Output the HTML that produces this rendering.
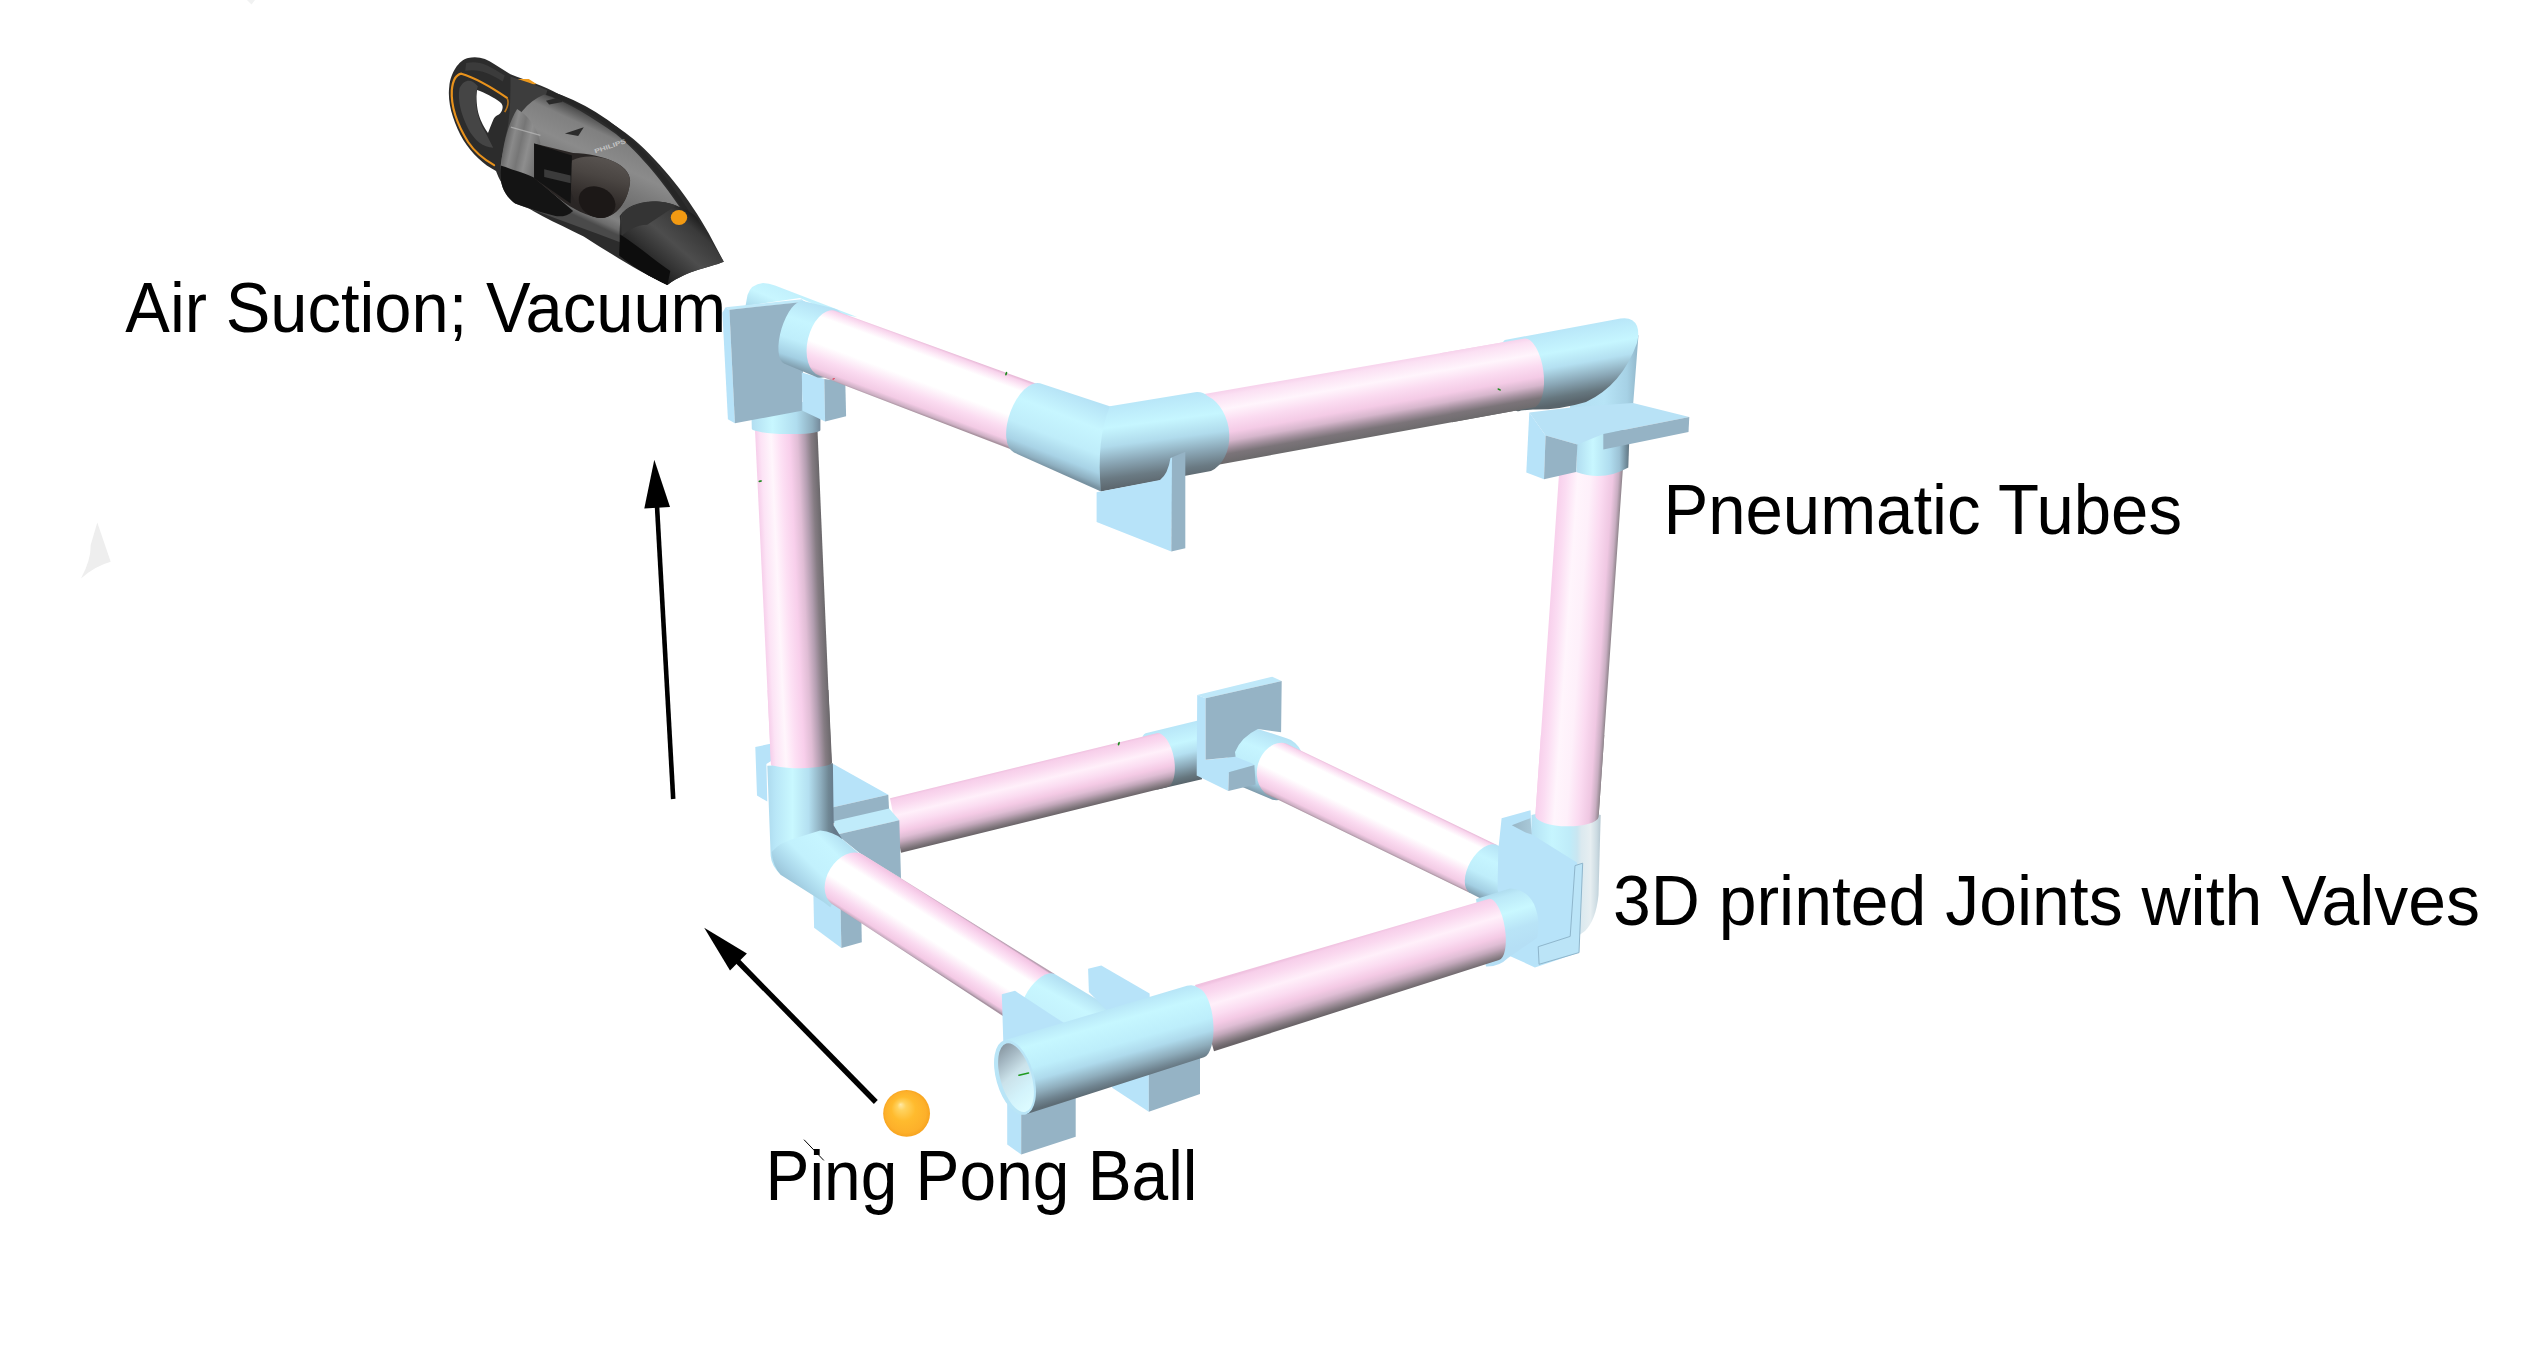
<!DOCTYPE html>
<html lang="en"><head><meta charset="utf-8"><title>Pneumatic tube diagram</title>
<style>html,body{margin:0;padding:0;background:#fff;}body{width:2536px;height:1350px;overflow:hidden;}svg{display:block;}text{font-family:"Liberation Sans",sans-serif;fill:#000;}</style></head>
<body>
<svg width="2536" height="1350" viewBox="0 0 2536 1350">
<defs><linearGradient id="g1" gradientUnits="userSpaceOnUse" x1="1172.3" y1="726.8" x2="1185.6" y2="782.9"><stop offset="0" stop-color="#b8e6f8"/><stop offset="0.3" stop-color="#c6f6ff"/><stop offset="0.5" stop-color="#b4e0f1"/><stop offset="0.72" stop-color="#8aa7b6"/><stop offset="0.9" stop-color="#66777f"/><stop offset="1" stop-color="#59656c"/></linearGradient><linearGradient id="g2" gradientUnits="userSpaceOnUse" x1="1272.2" y1="733.5" x2="1250.6" y2="790.8"><stop offset="0" stop-color="#b5e2f5"/><stop offset="0.3" stop-color="#c6f5ff"/><stop offset="0.6" stop-color="#bfeefb"/><stop offset="0.85" stop-color="#a3cfe3"/><stop offset="1" stop-color="#7e9aaa"/></linearGradient><linearGradient id="g3" gradientUnits="userSpaceOnUse" x1="1023.4" y1="765.7" x2="1036.5" y2="819.4"><stop offset="0" stop-color="#f0c2e0"/><stop offset="0.04" stop-color="#f7cfea"/><stop offset="0.14" stop-color="#fad8ef"/><stop offset="0.33" stop-color="#fff0fa"/><stop offset="0.5" stop-color="#fbdcf1"/><stop offset="0.63" stop-color="#f4cae5"/><stop offset="0.73" stop-color="#e0bed5"/><stop offset="0.81" stop-color="#c3a8bb"/><stop offset="0.89" stop-color="#9a8b95"/><stop offset="0.95" stop-color="#7d747a"/><stop offset="1" stop-color="#6a6468"/></linearGradient><linearGradient id="g4" gradientUnits="userSpaceOnUse" x1="1391.5" y1="794.2" x2="1367.7" y2="843.3"><stop offset="0" stop-color="#e9bcd9"/><stop offset="0.03" stop-color="#f8d3ec"/><stop offset="0.1" stop-color="#fdeaf7"/><stop offset="0.17" stop-color="#ffffff"/><stop offset="0.55" stop-color="#ffffff"/><stop offset="0.75" stop-color="#fbdcf1"/><stop offset="0.9" stop-color="#f3cbe5"/><stop offset="0.97" stop-color="#cdb0c4"/><stop offset="1" stop-color="#a8929f"/></linearGradient><linearGradient id="g5" gradientUnits="userSpaceOnUse" x1="763" y1="597.5" x2="824.4" y2="594.7"><stop offset="0" stop-color="#f7cfeb"/><stop offset="0.08" stop-color="#fce3f5"/><stop offset="0.25" stop-color="#fff6fc"/><stop offset="0.4" stop-color="#fde0f4"/><stop offset="0.55" stop-color="#f8cfeb"/><stop offset="0.68" stop-color="#e0bdd5"/><stop offset="0.8" stop-color="#b29daf"/><stop offset="0.9" stop-color="#857c83"/><stop offset="1" stop-color="#6b686b"/></linearGradient><linearGradient id="g6" gradientUnits="userSpaceOnUse" x1="1547.3" y1="643" x2="1610.4" y2="647.4"><stop offset="0" stop-color="#f8d0ec"/><stop offset="0.12" stop-color="#fbdcf2"/><stop offset="0.3" stop-color="#fff5fc"/><stop offset="0.5" stop-color="#fef0fa"/><stop offset="0.68" stop-color="#fbdbf1"/><stop offset="0.85" stop-color="#efc7e2"/><stop offset="0.94" stop-color="#c9aec2"/><stop offset="1" stop-color="#8f858c"/></linearGradient><linearGradient id="g7" gradientUnits="userSpaceOnUse" x1="1508.8" y1="850.1" x2="1484.5" y2="900.5"><stop offset="0" stop-color="#b5e2f5"/><stop offset="0.3" stop-color="#c6f5ff"/><stop offset="0.6" stop-color="#bfeefb"/><stop offset="0.85" stop-color="#a3cfe3"/><stop offset="1" stop-color="#7e9aaa"/></linearGradient><linearGradient id="g8" gradientUnits="userSpaceOnUse" x1="1531" y1="0" x2="1601" y2="0"><stop offset="0" stop-color="#b4e1f4"/><stop offset="0.3" stop-color="#c6f5fe"/><stop offset="0.55" stop-color="#bfecf9"/><stop offset="0.66" stop-color="#c9e6f1"/><stop offset="0.72" stop-color="#dbe9ef"/><stop offset="0.85" stop-color="#e6eef1"/><stop offset="0.94" stop-color="#ccdbe2"/><stop offset="1" stop-color="#b3c6d0"/></linearGradient><linearGradient id="g9" gradientUnits="userSpaceOnUse" x1="1538.1" y1="775.5" x2="1601.2" y2="779.9"><stop offset="0" stop-color="#f8d0ec"/><stop offset="0.12" stop-color="#fbdcf2"/><stop offset="0.3" stop-color="#fff5fc"/><stop offset="0.5" stop-color="#fef0fa"/><stop offset="0.68" stop-color="#fbdbf1"/><stop offset="0.85" stop-color="#efc7e2"/><stop offset="0.94" stop-color="#c9aec2"/><stop offset="1" stop-color="#8f858c"/></linearGradient><linearGradient id="g10" gradientUnits="userSpaceOnUse" x1="1512" y1="0" x2="1532" y2="0"><stop offset="0" stop-color="#98b6c6"/><stop offset="1" stop-color="#a9c9d9"/></linearGradient><linearGradient id="g11" gradientUnits="userSpaceOnUse" x1="1505" y1="889" x2="1522" y2="945"><stop offset="0" stop-color="#aedbee"/><stop offset="0.12" stop-color="#bce9f8"/><stop offset="0.4" stop-color="#c9f8ff"/><stop offset="0.7" stop-color="#b9e4f7"/><stop offset="1" stop-color="#b5dff5"/></linearGradient><linearGradient id="g12" gradientUnits="userSpaceOnUse" x1="1342.2" y1="942" x2="1361.2" y2="1004.2"><stop offset="0" stop-color="#f0c2e0"/><stop offset="0.04" stop-color="#f7cfea"/><stop offset="0.14" stop-color="#fad8ef"/><stop offset="0.33" stop-color="#fff0fa"/><stop offset="0.5" stop-color="#fbdcf1"/><stop offset="0.63" stop-color="#f4cae5"/><stop offset="0.73" stop-color="#e0bed5"/><stop offset="0.81" stop-color="#c3a8bb"/><stop offset="0.89" stop-color="#9a8b95"/><stop offset="0.95" stop-color="#7d747a"/><stop offset="1" stop-color="#6a6468"/></linearGradient><linearGradient id="g13" gradientUnits="userSpaceOnUse" x1="767" y1="0" x2="834" y2="0"><stop offset="0" stop-color="#addaee"/><stop offset="0.12" stop-color="#b8e6f7"/><stop offset="0.38" stop-color="#c9f8ff"/><stop offset="0.62" stop-color="#b4e0f1"/><stop offset="0.8" stop-color="#8eaebe"/><stop offset="0.92" stop-color="#6f8794"/><stop offset="1" stop-color="#66798a"/></linearGradient><linearGradient id="g14" gradientUnits="userSpaceOnUse" x1="850" y1="843" x2="800" y2="893"><stop offset="0" stop-color="#b1def1"/><stop offset="0.25" stop-color="#c6f5ff"/><stop offset="0.6" stop-color="#c2f1fd"/><stop offset="0.85" stop-color="#aad7ea"/><stop offset="1" stop-color="#9cc6da"/></linearGradient><linearGradient id="g15" gradientUnits="userSpaceOnUse" x1="769.2" y1="726.8" x2="830.1" y2="723.8"><stop offset="0" stop-color="#f7cfeb"/><stop offset="0.08" stop-color="#fce3f5"/><stop offset="0.25" stop-color="#fff6fc"/><stop offset="0.4" stop-color="#fde0f4"/><stop offset="0.55" stop-color="#f8cfeb"/><stop offset="0.68" stop-color="#e0bdd5"/><stop offset="0.8" stop-color="#b29daf"/><stop offset="0.9" stop-color="#857c83"/><stop offset="1" stop-color="#6b686b"/></linearGradient><linearGradient id="g16" gradientUnits="userSpaceOnUse" x1="958.7" y1="914.2" x2="926" y2="965.5"><stop offset="0" stop-color="#b9a0b2"/><stop offset="0.025" stop-color="#f3c4e3"/><stop offset="0.1" stop-color="#f9d3ed"/><stop offset="0.2" stop-color="#fde6f6"/><stop offset="0.3" stop-color="#ffffff"/><stop offset="0.6" stop-color="#ffffff"/><stop offset="0.8" stop-color="#fadaf0"/><stop offset="0.93" stop-color="#f4c9e5"/><stop offset="0.98" stop-color="#c9adc1"/><stop offset="1" stop-color="#a893a2"/></linearGradient><linearGradient id="g17" gradientUnits="userSpaceOnUse" x1="790" y1="285" x2="775" y2="320"><stop offset="0" stop-color="#bfeefb"/><stop offset="0.5" stop-color="#c8f6ff"/><stop offset="1" stop-color="#a9d8eb"/></linearGradient><linearGradient id="g18" gradientUnits="userSpaceOnUse" x1="751.5" y1="415.4" x2="820.4" y2="414.6"><stop offset="0" stop-color="#b2def1"/><stop offset="0.3" stop-color="#c8f7ff"/><stop offset="0.65" stop-color="#b0ddef"/><stop offset="0.88" stop-color="#8eafc0"/><stop offset="1" stop-color="#74899a"/></linearGradient><linearGradient id="g19" gradientUnits="userSpaceOnUse" x1="818.2" y1="304.6" x2="796.8" y2="369.2"><stop offset="0" stop-color="#b5e2f5"/><stop offset="0.3" stop-color="#c6f5ff"/><stop offset="0.6" stop-color="#bfeefb"/><stop offset="0.85" stop-color="#a3cfe3"/><stop offset="1" stop-color="#7e9aaa"/></linearGradient><linearGradient id="g20" gradientUnits="userSpaceOnUse" x1="937.2" y1="347.7" x2="913.3" y2="411.8"><stop offset="0" stop-color="#e9bcd9"/><stop offset="0.03" stop-color="#f8d3ec"/><stop offset="0.1" stop-color="#fdeaf7"/><stop offset="0.17" stop-color="#ffffff"/><stop offset="0.55" stop-color="#ffffff"/><stop offset="0.75" stop-color="#fbdcf1"/><stop offset="0.9" stop-color="#f3cbe5"/><stop offset="0.97" stop-color="#cdb0c4"/><stop offset="1" stop-color="#a8929f"/></linearGradient><linearGradient id="g21" gradientUnits="userSpaceOnUse" x1="1362.5" y1="366.6" x2="1374.9" y2="436.3"><stop offset="0" stop-color="#f7d3ec"/><stop offset="0.06" stop-color="#fbe0f3"/><stop offset="0.25" stop-color="#fff5fc"/><stop offset="0.42" stop-color="#fbdcf1"/><stop offset="0.58" stop-color="#f4cbe6"/><stop offset="0.7" stop-color="#d6b6cc"/><stop offset="0.8" stop-color="#a18f9c"/><stop offset="0.88" stop-color="#7b7479"/><stop offset="1" stop-color="#6c6a6c"/></linearGradient><linearGradient id="g22" gradientUnits="userSpaceOnUse" x1="1575" y1="0" x2="1640" y2="0"><stop offset="0" stop-color="#b3dff2"/><stop offset="0.45" stop-color="#b7e4f6"/><stop offset="0.8" stop-color="#a6d1e5"/><stop offset="1" stop-color="#8fb3c6"/></linearGradient><linearGradient id="g23" gradientUnits="userSpaceOnUse" x1="1570" y1="327" x2="1583" y2="400"><stop offset="0" stop-color="#b8e6f8"/><stop offset="0.3" stop-color="#c6f6ff"/><stop offset="0.5" stop-color="#b4e0f1"/><stop offset="0.72" stop-color="#8aa7b6"/><stop offset="0.9" stop-color="#66777f"/><stop offset="1" stop-color="#59656c"/></linearGradient><linearGradient id="g24" gradientUnits="userSpaceOnUse" x1="1482.2" y1="345.9" x2="1494.4" y2="414.6"><stop offset="0" stop-color="#f7d3ec"/><stop offset="0.06" stop-color="#fbe0f3"/><stop offset="0.25" stop-color="#fff5fc"/><stop offset="0.42" stop-color="#fbdcf1"/><stop offset="0.58" stop-color="#f4cbe6"/><stop offset="0.7" stop-color="#d6b6cc"/><stop offset="0.8" stop-color="#a18f9c"/><stop offset="0.88" stop-color="#7b7479"/><stop offset="1" stop-color="#6c6a6c"/></linearGradient><linearGradient id="g25" gradientUnits="userSpaceOnUse" x1="1577" y1="0" x2="1630" y2="0"><stop offset="0" stop-color="#b2def1"/><stop offset="0.3" stop-color="#c8f7ff"/><stop offset="0.62" stop-color="#b0ddef"/><stop offset="0.8" stop-color="#9cc2d5"/><stop offset="0.92" stop-color="#74909f"/><stop offset="1" stop-color="#5e6f7a"/></linearGradient><linearGradient id="g26" gradientUnits="userSpaceOnUse" x1="1076" y1="395.1" x2="1047.3" y2="468"><stop offset="0" stop-color="#b6e3f6"/><stop offset="0.3" stop-color="#c7f6ff"/><stop offset="0.6" stop-color="#bfedfa"/><stop offset="0.82" stop-color="#a8d3e6"/><stop offset="0.94" stop-color="#8eafc0"/><stop offset="1" stop-color="#7892a1"/></linearGradient><linearGradient id="g27" gradientUnits="userSpaceOnUse" x1="1155" y1="398" x2="1166" y2="481"><stop offset="0" stop-color="#b8e6f8"/><stop offset="0.28" stop-color="#c6f6ff"/><stop offset="0.5" stop-color="#b0dbec"/><stop offset="0.7" stop-color="#8aa6b5"/><stop offset="0.88" stop-color="#6a7a83"/><stop offset="1" stop-color="#5d686f"/></linearGradient><linearGradient id="g28" gradientUnits="userSpaceOnUse" x1="1083.3" y1="991.3" x2="1057.3" y2="1039.4"><stop offset="0" stop-color="#b3e0f3"/><stop offset="0.3" stop-color="#c8f7ff"/><stop offset="0.65" stop-color="#c4f2fd"/><stop offset="1" stop-color="#b2dff2"/></linearGradient><linearGradient id="g29" gradientUnits="userSpaceOnUse" x1="1100" y1="1010" x2="1121" y2="1085"><stop offset="0" stop-color="#b7e5f7"/><stop offset="0.2" stop-color="#c6f7ff"/><stop offset="0.48" stop-color="#bdeefb"/><stop offset="0.64" stop-color="#aedaec"/><stop offset="0.8" stop-color="#8eacbb"/><stop offset="0.92" stop-color="#6f838f"/><stop offset="1" stop-color="#5e6d76"/></linearGradient><linearGradient id="g30" gradientUnits="userSpaceOnUse" x1="1003" y1="1048" x2="1030" y2="1105"><stop offset="0" stop-color="#8b9aa4"/><stop offset="0.18" stop-color="#a3b6c1"/><stop offset="0.45" stop-color="#cbe2ea"/><stop offset="0.75" stop-color="#d3f3fb"/><stop offset="1" stop-color="#dcfbff"/></linearGradient><radialGradient id="g31" gradientUnits="userSpaceOnUse" cx="906.6" cy="1113.5" r="24" fx="900.5" fy="1104.5"><stop offset="0" stop-color="#ffe9a8"/><stop offset="0.18" stop-color="#ffd25e"/><stop offset="0.5" stop-color="#ffbb2e"/><stop offset="0.85" stop-color="#fdb02a"/><stop offset="1" stop-color="#f6a21e"/></radialGradient><linearGradient id="g32" gradientUnits="userSpaceOnUse" x1="598.3" y1="113.9" x2="555.5" y2="206.5"><stop offset="0" stop-color="#353535"/><stop offset="0.07" stop-color="#585858"/><stop offset="0.16" stop-color="#808080"/><stop offset="0.38" stop-color="#8b8b8b"/><stop offset="0.55" stop-color="#7b7b7b"/><stop offset="0.72" stop-color="#6e6e6e"/><stop offset="0.87" stop-color="#828282"/><stop offset="0.95" stop-color="#6c6c6c"/><stop offset="1" stop-color="#4a4a4a"/></linearGradient><linearGradient id="g33" gradientUnits="userSpaceOnUse" x1="501.3" y1="146.7" x2="540.4" y2="155.5"><stop offset="0" stop-color="#5a5a5a"/><stop offset="0.25" stop-color="#8a8a8a"/><stop offset="0.45" stop-color="#767676"/><stop offset="0.65" stop-color="#8e8e8e"/><stop offset="1" stop-color="#6a6a6a"/></linearGradient><linearGradient id="g34" gradientUnits="userSpaceOnUse" x1="607.1" y1="155.5" x2="590.8" y2="215.9"><stop offset="0" stop-color="#5a5552"/><stop offset="0.35" stop-color="#4a4542"/><stop offset="0.7" stop-color="#322d2b"/><stop offset="1" stop-color="#242020"/></linearGradient><linearGradient id="g35" gradientUnits="userSpaceOnUse" x1="692" y1="212" x2="640" y2="272"><stop offset="0" stop-color="#1c1c1c"/><stop offset="0.15" stop-color="#3a3a3a"/><stop offset="0.45" stop-color="#4d4d4d"/><stop offset="0.7" stop-color="#333333"/><stop offset="1" stop-color="#101010"/></linearGradient></defs>
<rect width="2536" height="1350" fill="#ffffff"/>
<path d="M97.3 522.6 L110.7 561.7 Q95 566 81 578.4 Q91 560 90.7 545 Z" fill="#eeeeee"/>
<path d="M247 0 L255 0 L251.5 4.5 Z" fill="#f1f2f2"/>
<path d="M1145.6 733.3 L1199 720.3 L1202 779.2 L1157.8 789.4 A28.7 8.6 -102.3 0 1 1145.6 733.3 Z" fill="url(#g1)"/>
<path d="M1257.8 728.9 L1286.5 738.2 A31.6 25.3 102.8 0 1 1272.5 799.8 L1240 786 A29.9 20.9 -72.7 0 1 1257.8 728.9 Z" fill="url(#g2)"/>
<polygon points="1197.2,695 1272.2,676.7 1281.7,681.1 1205.6,698.3" fill="#bfe8f9"/>
<polygon points="1197.2,695 1205.6,698.3 1205.6,760 1235.6,756.7 1254.4,764.4 1228.9,772.2 1228.3,791.1 1196.7,775.6" fill="#b7e3f9"/>
<path d="M1205.6 698.3 L1281.7 681.1 L1281.1 732.2 L1257.8 728.9 Q1241 737 1235 752 L1235.6 756.7 L1205.6 759.8 Z" fill="#95b3c5"/>
<polygon points="1228.9,772.2 1254.4,765 1255.6,784.4 1228.3,791.1" fill="#95b3c5"/>
<path d="M890 798.2 L1156.7 733.2 A27.5 12.4 79.5 0 1 1166.7 787.3 L901 852.7 Z" fill="url(#g3)"/>
<path d="M1286 743.4 L1497 845 L1470 893 L1272.5 797 A27.6 22.1 -75.9 0 1 1286 743.4 Z" fill="url(#g4)"/>
<polygon points="755.3,747 771.5,743.6 771.5,760.7 766.4,764 767.3,801.6 757,795.6" fill="#b7e3f9"/>
<path d="M755 430 L771 765 A30.3 5.1 -1.9 0 0 831.5 763 L817.5 430 Z" fill="url(#g5)"/>
<path d="M1559.3 470 L1535.3 816 A31.7 10.4 0.9 0 0 1598.6 817 L1622.8 470 Z" fill="url(#g6)"/>
<path d="M1497.5 845.3 L1520 855 L1503 910 L1470 893 A27.5 15.1 -60 0 1 1497.5 845.3 Z" fill="url(#g7)"/>
<path d="M1531.5 815 Q1566 806 1600.7 815 L1598.5 895 Q1596 920 1585 931 L1578 936 L1531.5 960 Z" fill="url(#g8)"/>
<path d="M1540.9 735 L1535.3 816 A31.7 10.4 0.9 0 0 1598.6 817 L1604.3 735 Z" fill="url(#g9)"/>
<polygon points="1501.6,818.2 1530.5,810.2 1532,834.4 1576.9,862.4 1579.2,952.6 1534.9,967.4 1509.2,955.7 1505.3,920 1497.5,888.9 1498.3,850" fill="#b7e3f9"/>
<polygon points="1511.8,825.3 1530.3,818.2 1531.8,834.4 1525.6,832.4" fill="url(#g10)"/>
<path d="M1575 865.6 L1570.2 936.4 L1538.2 946.7 L1539.1 964.3 L1579 952.6 L1582.7 863.2 Z" fill="#bbe4f7" stroke="#8fb6cc" stroke-width="1" stroke-linejoin="round"/>
<path d="M1476 899 L1510 888.4 Q1526 889 1534 904 Q1541 920 1537 938 L1508 958 Q1499 967 1486 966.5 Z" fill="url(#g11)"/>
<path d="M1195 985.1 L1489.3 898.8 A31 11.2 81 0 1 1499 960 L1214 1051.2 Z" fill="url(#g12)"/>
<polygon points="813.3,890.7 840.5,906 841.4,948.1 814.1,927.7" fill="#b7e3f9"/>
<polygon points="840.5,906 861,899.2 861.8,942.2 841.4,948.1" fill="#95b3c5"/>
<polygon points="833.4,764.1 888.3,794.8 824.4,809.2 826,780" fill="#b7e3f9"/>
<polygon points="824.4,809.2 888.3,794.8 889.1,810.1 835.4,822.9 821.8,822.9" fill="#95b3c5"/>
<polygon points="834.6,821 889.1,808.5 899.3,820.3 832,835.7" fill="#c0ebfa"/>
<polygon points="832,835.7 899.3,820.3 901,878.3 859.3,852.7 842.2,839.1" fill="#95b3c5"/>
<path d="M767.3 765.8 L832.9 763.2 L833.7 825.4 L842.2 839.1 L830 870 L780.9 874.9 Q771.5 866.3 770.7 856.1 Z" fill="url(#g13)"/>
<path d="M820.1 830.5 Q834 832 842.2 839.1 L859.3 853.6 L830.3 907.2 L823.5 902.1 L780.9 874.9 Q773 867 771.5 852 Q780 842 796.2 838 Z" fill="url(#g14)"/>
<path d="M767.5 690 L771 763.5 A30.5 5.2 -0.9 0 0 832 762.5 L828.5 690 Z" fill="url(#g15)"/>
<path d="M862.7 854.4 L1054.7 974.1 L1004 1016.7 L832 904 A29.2 21 -58.2 0 1 862.7 854.4 Z" fill="url(#g16)"/>
<path d="M745.5 306 L747.5 295 Q751 284 763 283 Q769 283 775 285.5 L857 317 L834 313 L800 298 Z" fill="url(#g17)"/>
<path d="M751.2 402 L751.8 428.8 A34.3 4.5 1.2 0 0 820.4 430.2 L820.4 402 Z" fill="url(#g18)"/>
<polygon points="725.6,307.3 801.8,299.3 805,302 729.4,309.7" fill="#c0e9f9"/>
<polygon points="722.4,312.8 725.6,307.3 729.4,309.7 734.9,423.2 727.9,419.3" fill="#b7e3f9"/>
<polygon points="729.4,309.7 805,301.7 803,372 801.8,410.7 734.9,423.2" fill="#95b3c5"/>
<polygon points="801.8,372.6 824.3,378.9 825.1,421.6 802.5,410.7" fill="#b7e3f9"/>
<polygon points="824.3,378.9 845.3,382 846.1,416.2 825.1,421.6" fill="#95b3c5"/>
<path d="M803 301 L833.5 308.3 A35.5 21.3 103 0 1 817.5 377.5 L784 363.5 A32.7 13.1 -73.1 0 1 803 301 Z" fill="url(#g19)"/>
<path d="M834.4 310.4 L1040 385 L1012 449.7 L818.9 375.5 A33.5 20.1 -76.6 0 1 834.4 310.4 Z" fill="url(#g20)"/>
<path d="M1200 394.8 L1525 338.5 L1533.5 407.5 L1214 465.5 Z" fill="url(#g21)"/>
<polygon points="1570,398 1638.5,335 1633,406 1633,414 1570,416" fill="url(#g22)"/>
<path d="M1504.8 340 L1620.4 318.5 Q1633 316.5 1637 326 Q1639.5 333 1637 343 Q1622 385 1586 402 Q1560 410 1533 409.6 L1521 410.4 A12 36 -10 0 1 1504.8 340 Z" fill="url(#g23)"/>
<path d="M1440 353.2 L1524.5 338.6 A34.7 14.6 82.7 0 1 1533.3 407.5 L1452 422.3 Z" fill="url(#g24)"/>
<path d="M1577.4 430 L1629.6 430 L1628.3 467.4 Q1603 482 1576.2 471.9 Z" fill="url(#g25)"/>
<polygon points="1529.3,412.6 1575,407 1633,403 1689.3,417 1603.3,434 1577.4,444.4 1545.6,435.6" fill="#b8e2f6"/>
<polygon points="1603.3,434 1689.3,417 1688.5,431.9 1603.3,449.6" fill="#95b3c5"/>
<polygon points="1529.3,412.6 1545.6,435.6 1544,479.3 1526.3,472.6" fill="#b7e3f9"/>
<polygon points="1545.6,435.6 1577.4,444.4 1576,471.9 1544,479.3" fill="#95b3c5"/>
<path d="M1040 383.3 L1112 407 L1101 491.5 L1014 452.5 A37 18.5 -69.4 0 1 1040 383.3 Z" fill="url(#g26)"/>
<path d="M1109.8 406.2 L1195 392.2 Q1203 391.5 1207.5 396 A30 40 -8 0 1 1211 471 L1101 491.5 Q1096 440 1109.8 406.2 Z" fill="url(#g27)"/>
<path d="M1096.6 492.3 L1160 480 Q1168 474 1170.5 458 L1172.8 457.2 L1171.3 551.4 L1096.6 522 Z" fill="#b7e3f9"/>
<polygon points="1172,457.2 1185.3,451.8 1185.3,548.3 1171.3,551.4" fill="#95b3c5"/>
<path d="M1054.7 974.1 L1112 1008.5 L1080 1050 L1024 1023 A28.9 14.4 -57.9 0 1 1054.7 974.1 Z" fill="url(#g28)"/>
<polygon points="1001.8,994.3 1015,990.8 1064,1023.1 1046.9,1029.3 1003.3,1041.8" fill="#b7e3f9"/>
<polygon points="1088.1,968.7 1101.3,965.6 1149.6,993.6 1150,1005 1112.2,1016 1088.9,992" fill="#b7e3f9"/>
<polygon points="1007.2,1100 1021.2,1108 1021.2,1154.6 1007.2,1144.5" fill="#b7e3f9"/>
<polygon points="1021.2,1108 1075.7,1092 1075.7,1136.7 1021.2,1154.6" fill="#95b3c5"/>
<polygon points="1112.2,1087.7 1112.2,1080 1148.8,1068 1148.8,1111.8" fill="#b7e3f9"/>
<polygon points="1148.8,1068 1200,1051 1200,1094 1148.8,1111.8" fill="#95b3c5"/>
<path d="M1005 1040 L1187 985.8 Q1194 984 1198.5 988 A13.5 35 -5 0 1 1204 1057.3 L1027 1114 Z" fill="url(#g29)"/>
<ellipse cx="1015" cy="1077.4" rx="18.8" ry="38.6" transform="rotate(-16 1015 1077.4)" fill="#b9e5f7"/>
<ellipse cx="1016" cy="1077.6" rx="15.6" ry="35.4" transform="rotate(-16 1016 1077.6)" fill="url(#g30)"/>
<line x1="1019" y1="1075.2" x2="1028.5" y2="1073" stroke="#1f9a1f" stroke-width="1.6" stroke-linecap="round"/>
<ellipse cx="1006.2" cy="373.6" rx="1.9" ry="0.9" transform="rotate(-70 1006.2 373.6)" fill="#1e8a1e"/>
<ellipse cx="760.3" cy="481.2" rx="1.9" ry="0.9" transform="rotate(-10 760.3 481.2)" fill="#1e8a1e"/>
<ellipse cx="1499.2" cy="389.5" rx="1.9" ry="0.9" transform="rotate(20 1499.2 389.5)" fill="#1e8a1e"/>
<ellipse cx="1118.8" cy="743.6" rx="1.9" ry="0.9" transform="rotate(-70 1118.8 743.6)" fill="#1e8a1e"/>
<ellipse cx="833.6" cy="378.8" rx="1.4" ry="0.7" transform="rotate(-20 833.6 378.8)" fill="#e0405a"/>
<line x1="673.2" y1="799" x2="657" y2="506" stroke="#000" stroke-width="4.6"/>
<polygon points="654.3,459.7 644.3,508.6 670,507" fill="#000"/>
<line x1="875.8" y1="1102" x2="737" y2="960.5" stroke="#000" stroke-width="5.4"/>
<polygon points="704.2,927.8 746.9,953.6 730,970.5" fill="#000"/>
<line x1="804" y1="1139.7" x2="823.8" y2="1160.4" stroke="#000" stroke-width="1"/>
<circle cx="906.6" cy="1113.4" r="23.4" fill="url(#g31)"/>
<text x="125.3" y="332" font-size="69.5" textLength="601" lengthAdjust="spacingAndGlyphs">Air Suction; Vacuum</text>
<text x="1663.4" y="533.6" font-size="69.5" textLength="518.6" lengthAdjust="spacingAndGlyphs">Pneumatic Tubes</text>
<text x="1613" y="924.6" font-size="69.5" textLength="867" lengthAdjust="spacingAndGlyphs">3D printed Joints with Valves</text>
<text x="765.5" y="1199.5" font-size="69.5" textLength="432" lengthAdjust="spacingAndGlyphs">Ping Pong Ball</text>
<g>
<path d="M468.1 57.9 C477.8 55.8 486.4 58.3 494.1 64.1 L510.5 74.3 C527.8 80.8 543.2 85.8 558.6 93.9 C583.7 105.5 612.5 121.8 633.7 139.2 C662.6 164.2 689.5 198.8 708.8 233.5 L723.8 261.8 C708.8 268.1 689.5 269.1 667.4 284.9 C641.4 273 612.5 254.7 583.7 236.4 C554.8 221.9 527.8 211.4 510.5 194 C502.8 186.3 498.9 178.6 496 170.9 C483.5 165.1 472 153.6 463.3 140.1 C453.7 122.8 447 103.5 449.3 86.2 C450.8 72.7 458.5 60.2 468.1 57.9 Z" fill="#2c2c2c"/>
<path d="M477 90.1 C484.5 92.4 494.1 97.8 499.9 102 C502.4 103.9 503.2 106.4 502.4 108.9 C501.8 111.6 500.5 113.2 498.9 114.5 C496 116 494.1 117.4 493.2 119.9 C491.6 123.8 489.7 128.6 488 133 C484.5 128.6 480.6 120.9 478.9 115.1 C477 109.3 475.8 97.8 477 90.1 Z" fill="#ffffff"/>
<path d="M459.5 88.1 C464.3 78.5 472 78.5 477.8 86.2 C473.9 97.8 475.8 117 485.5 132.4 L493.2 147.8 C483.5 147.8 473.9 140.1 468.1 128.6 C460.4 113.2 457.5 99.7 459.5 88.1 Z" fill="#454545"/>
<path d="M466.2 63.1 C477.8 60.2 487.4 64.1 504.7 75.6 L502.8 81.4 C487.4 71.8 477.8 68.9 465.2 70.8 Z" fill="#3b3b3b"/>
<path d="M507 97.8 C497 91 477.8 78.5 461.4 73.7 C455.6 74.7 452.7 81.4 451.8 90.1 C450.8 107.4 458.5 126.6 468.1 142 C475.8 153.6 485.5 160.3 494.1 165.1" fill="none" stroke="#e8921c" stroke-width="2.2" stroke-linecap="round"/>
<path d="M507 97.8 C508.9 101.6 507.6 107.4 504.7 112.2" fill="none" stroke="#b87318" stroke-width="1.6"/>
<polygon points="516.3,79.1 528.8,79.1 536.5,83.9 524,86.2" fill="#ee9a1e"/>
<path d="M510.5 76.6 C527.8 82.4 543.2 87.2 557.7 95.8 C535.5 103.5 516.3 120.9 504.7 140.1 C510.5 120.9 510.5 97.8 510.5 76.6 Z" fill="#3d3d3d"/>
<path d="M544.2 94.4 C568.1 102 593.3 117.7 615.9 134.1 C641.1 154.2 666.3 187 680.2 207.8 L668.8 203.4 C647.4 198.3 628.5 203.4 619.7 215.9 L622.2 243 C590.8 231.1 553 217.2 515.2 203.4 C502.6 194.5 498.8 180.7 500.7 165.6 C503.2 139.1 517.7 105.1 544.2 94.4 Z" fill="url(#g32)"/>
<path d="M517.1 108.9 C527.8 115.2 537.9 127.8 540.4 142.9 L535.3 178.2 C521.5 171.9 508.9 168.1 501.3 165.6 C502.6 142.9 508.9 122.7 517.1 108.9 Z" fill="url(#g33)"/>
<path d="M510.8 127.2 C521.5 130.1 531.6 132.8 540.4 135.3" fill="none" stroke="#c4c4c4" stroke-width="1.2" opacity="0.6"/>
<path d="M500.7 165.6 C515.2 170.6 527.8 174.4 535.3 178.2 L573.1 210.9 C568.1 215.9 560.5 217.2 555.5 215.9 C540.4 212.2 525.3 207.1 515.2 203.4 C502.6 194.5 498.8 180.7 500.7 165.6 Z" fill="#141414"/>
<path d="M534.1 143.5 L573.1 153 C603.4 154.2 629.8 164.3 630.1 180.7 C628.5 203.4 613.4 220.4 597.1 217.5 C580.7 214.1 568.1 205.9 555.5 195.8 L534.1 178.2 Z" fill="#2a2625"/>
<path d="M571.9 160.5 C590.8 150.5 628.5 160.5 630.1 180.7 C628.5 203.4 613.4 220.4 597.1 217.5 C583.2 214.7 573.1 203.4 570.6 188.2 C569.3 178.2 569.3 168.1 571.9 160.5 Z" fill="url(#g34)"/>
<ellipse cx="597.1" cy="202.1" rx="19" ry="15" transform="rotate(25 597.1 202.1)" fill="#1c1817"/>
<path d="M534.1 143.5 L571.9 155.5 L570.6 203.4 L534.1 178.2 Z" fill="#131313"/>
<path d="M544.2 169.3 L570.6 175.6 L570.6 183.2 L544.2 176.9 Z" fill="#3b3b3b"/>
<path d="M546 100.7 L560.5 96.9 L562.4 102 L549.2 104.5 Z" fill="#2a2a2a"/>
<path d="M564.9 133.5 L583.8 127.2 L578.2 136 Z" fill="#2b2b2b"/>
<path d="M546.7 92.5 C584.5 103.9 615.9 126.5 638.6 149.2 C660 171.9 676.4 194.5 687.7 213.4" fill="none" stroke="#262626" stroke-width="4.5"/>
<path d="M622.2 213.3 C635.6 201.7 656.8 197.9 676.1 205.6 C685.7 209.4 693.4 213.3 697.2 218.1 L723.8 261.8 C708.8 268.1 689.5 269.1 667.4 284.9 C651 277.8 633.7 267.2 619.3 255.6 C620.2 240.2 618.3 224.8 622.2 213.3 Z" fill="url(#g35)"/>
<path d="M622.2 213.3 C635.6 201.7 656.8 197.9 676.1 205.6 L647.2 224.8 C635.6 224.8 627.9 230.6 621.2 236.4 Z" fill="#343434"/>
<path d="M620.2 234.5 C635.6 244.1 651 257.6 670.3 271 L667.4 284.9 C651 277.8 633.7 267.2 619.3 255.6 Z" fill="#0d0d0d"/>
<ellipse cx="679" cy="217.5" rx="8.2" ry="7.6" fill="#f39a12"/>
<text x="0" y="0" font-size="6.2" transform="translate(595.2,153.6) rotate(-19)" style="fill:#d2d2d2;font-weight:bold" opacity="0.8" textLength="33" lengthAdjust="spacingAndGlyphs">PHILIPS</text>
</g>
</svg>
</body></html>
